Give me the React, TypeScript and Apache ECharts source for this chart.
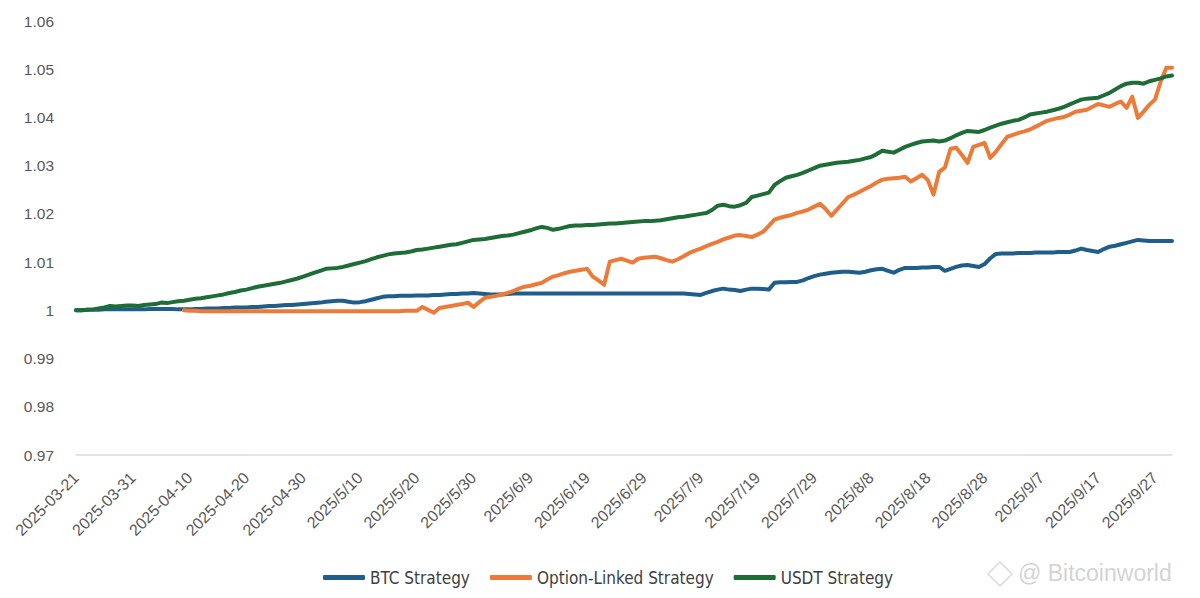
import React, { useEffect, useRef } from "react";
import * as echarts from "echarts";

// Daily categories from 2025-03-21 to 2025-09-30
const startDate = new Date(Date.UTC(2025, 2, 21));
const dayCount = 194;
const categories: string[] = [];
for (let i = 0; i < dayCount; i++) {
  const d = new Date(startDate.getTime() + i * 86400000);
  const m = d.getUTCMonth() + 1;
  const day = d.getUTCDate();
  categories.push(
    m <= 4
      ? `2025-${String(m).padStart(2, "0")}-${String(day).padStart(2, "0")}`
      : `2025/${m}/${day}`
  );
}

const seriesNames = ["BTC Strategy", "Option-Linked Strategy", "USDT Strategy"];

const btcStrategy = [
  1.0000, 1.0000, 1.0001, 1.0001, 1.0001, 1.0002, 1.0002, 1.0002, 1.0002, 1.0002,
  1.0002, 1.0002, 1.0002, 1.0003, 1.0003, 1.0003, 1.0003, 1.0003, 1.0002, 1.0002,
  1.0002, 1.0003, 1.0003, 1.0004, 1.0004, 1.0004, 1.0005, 1.0005, 1.0006, 1.0006,
  1.0006, 1.0007, 1.0007, 1.0008, 1.0009, 1.0009, 1.0010, 1.0011, 1.0011, 1.0012,
  1.0013, 1.0014, 1.0015, 1.0016, 1.0018, 1.0019, 1.0020, 1.0020, 1.0018, 1.0016,
  1.0017, 1.0019, 1.0022, 1.0025, 1.0028, 1.0029, 1.0029, 1.0030, 1.0030, 1.0030,
  1.0031, 1.0031, 1.0031, 1.0032, 1.0032, 1.0033, 1.0034, 1.0034, 1.0035, 1.0035,
  1.0036, 1.0035, 1.0034, 1.0033, 1.0033, 1.0033, 1.0034, 1.0035, 1.0035, 1.0035,
  1.0035, 1.0035, 1.0035, 1.0035, 1.0035, 1.0035, 1.0035, 1.0035, 1.0035, 1.0035,
  1.0035, 1.0035, 1.0035, 1.0035, 1.0035, 1.0035, 1.0035, 1.0035, 1.0035, 1.0035,
  1.0035, 1.0035, 1.0035, 1.0035, 1.0035, 1.0035, 1.0035, 1.0035, 1.0034, 1.0033,
  1.0032, 1.0036, 1.0040, 1.0043, 1.0045, 1.0043, 1.0042, 1.0040, 1.0043, 1.0045,
  1.0045, 1.0044, 1.0043, 1.0057, 1.0058, 1.0058, 1.0059, 1.0059, 1.0062, 1.0067,
  1.0071, 1.0074, 1.0076, 1.0078, 1.0079, 1.0080, 1.0080, 1.0079, 1.0078, 1.0080,
  1.0083, 1.0085, 1.0086, 1.0082, 1.0078, 1.0084, 1.0088, 1.0088, 1.0088, 1.0089,
  1.0089, 1.0090, 1.0090, 1.0082, 1.0086, 1.0090, 1.0093, 1.0094, 1.0092, 1.0090,
  1.0096, 1.0108, 1.0117, 1.0118, 1.0118, 1.0118, 1.0119, 1.0119, 1.0119, 1.0120,
  1.0120, 1.0120, 1.0120, 1.0121, 1.0121, 1.0121, 1.0124, 1.0128, 1.0125, 1.0123,
  1.0121, 1.0127, 1.0132, 1.0134, 1.0137, 1.0140, 1.0143, 1.0146, 1.0145, 1.0144,
  1.0144, 1.0144, 1.0144, 1.0144,
];

const optionLinkedStrategy = [
  null, null, null, null, null, null, null, null, null, null,
  null, null, null, null, null, null, null, null, null, 1.0000,
  0.9999, 0.9999, 0.9998, 0.9998, 0.9998, 0.9998, 0.9998, 0.9998, 0.9998, 0.9998,
  0.9998, 0.9998, 0.9998, 0.9998, 0.9998, 0.9998, 0.9998, 0.9998, 0.9998, 0.9998,
  0.9998, 0.9998, 0.9998, 0.9998, 0.9998, 0.9998, 0.9998, 0.9998, 0.9998, 0.9998,
  0.9998, 0.9998, 0.9998, 0.9998, 0.9998, 0.9998, 0.9998, 0.9998, 0.9999, 0.9999,
  0.9999, 1.0007, 1.0001, 0.9995, 1.0005, 1.0007, 1.0009, 1.0011, 1.0013, 1.0016,
  1.0007, 1.0017, 1.0026, 1.0028, 1.0030, 1.0033, 1.0036, 1.0040, 1.0045, 1.0049,
  1.0051, 1.0054, 1.0057, 1.0064, 1.0070, 1.0073, 1.0077, 1.0080, 1.0082, 1.0084,
  1.0086, 1.0070, 1.0062, 1.0053, 1.0101, 1.0104, 1.0107, 1.0103, 1.0099, 1.0107,
  1.0109, 1.0110, 1.0111, 1.0108, 1.0104, 1.0101, 1.0106, 1.0112, 1.0119, 1.0124,
  1.0128, 1.0133, 1.0138, 1.0142, 1.0147, 1.0151, 1.0155, 1.0156, 1.0154, 1.0152,
  1.0157, 1.0163, 1.0175, 1.0188, 1.0192, 1.0195, 1.0198, 1.0202, 1.0205, 1.0209,
  1.0215, 1.0221, 1.0210, 1.0196, 1.0209, 1.0222, 1.0235, 1.0240, 1.0246, 1.0252,
  1.0258, 1.0265, 1.0271, 1.0273, 1.0274, 1.0275, 1.0277, 1.0267, 1.0274, 1.0281,
  1.0270, 1.0240, 1.0287, 1.0296, 1.0335, 1.0337, 1.0322, 1.0306, 1.0339, 1.0343,
  1.0347, 1.0316, 1.0329, 1.0345, 1.0360, 1.0364, 1.0368, 1.0371, 1.0375, 1.0381,
  1.0387, 1.0393, 1.0396, 1.0399, 1.0401, 1.0406, 1.0412, 1.0414, 1.0416, 1.0422,
  1.0428, 1.0425, 1.0422, 1.0428, 1.0433, 1.0420, 1.0443, 1.0399, 1.0412, 1.0426,
  1.0437, 1.0474, 1.0503, 1.0503,
];

const usdtStrategy = [
  1.0000, 1.0000, 1.0001, 1.0002, 1.0004, 1.0006, 1.0009, 1.0008, 1.0009, 1.0010,
  1.0010, 1.0009, 1.0011, 1.0012, 1.0013, 1.0016, 1.0015, 1.0017, 1.0019, 1.0020,
  1.0022, 1.0024, 1.0025, 1.0027, 1.0029, 1.0031, 1.0033, 1.0036, 1.0038, 1.0041,
  1.0043, 1.0046, 1.0049, 1.0051, 1.0053, 1.0055, 1.0057, 1.0060, 1.0063, 1.0066,
  1.0070, 1.0074, 1.0078, 1.0082, 1.0086, 1.0087, 1.0088, 1.0090, 1.0093, 1.0096,
  1.0099, 1.0102, 1.0106, 1.0110, 1.0113, 1.0116, 1.0118, 1.0119, 1.0120, 1.0122,
  1.0125, 1.0126, 1.0128, 1.0130, 1.0132, 1.0134, 1.0136, 1.0137, 1.0140, 1.0143,
  1.0146, 1.0147, 1.0148, 1.0150, 1.0152, 1.0154, 1.0155, 1.0157, 1.0160, 1.0163,
  1.0166, 1.0170, 1.0173, 1.0171, 1.0167, 1.0169, 1.0172, 1.0175, 1.0176, 1.0176,
  1.0177, 1.0177, 1.0178, 1.0179, 1.0180, 1.0180, 1.0181, 1.0182, 1.0183, 1.0184,
  1.0185, 1.0185, 1.0186, 1.0187, 1.0189, 1.0191, 1.0193, 1.0194, 1.0196, 1.0198,
  1.0200, 1.0202, 1.0208, 1.0217, 1.0219, 1.0216, 1.0215, 1.0218, 1.0223, 1.0235,
  1.0238, 1.0241, 1.0244, 1.0260, 1.0268, 1.0275, 1.0278, 1.0281, 1.0285, 1.0290,
  1.0295, 1.0300, 1.0302, 1.0304, 1.0306, 1.0307, 1.0308, 1.0310, 1.0312, 1.0315,
  1.0318, 1.0324, 1.0331, 1.0329, 1.0327, 1.0333, 1.0339, 1.0343, 1.0347, 1.0350,
  1.0351, 1.0352, 1.0350, 1.0352, 1.0357, 1.0363, 1.0368, 1.0372, 1.0371, 1.0370,
  1.0374, 1.0379, 1.0383, 1.0387, 1.0390, 1.0393, 1.0395, 1.0400, 1.0406, 1.0408,
  1.0410, 1.0412, 1.0415, 1.0418, 1.0422, 1.0427, 1.0432, 1.0437, 1.0439, 1.0440,
  1.0441, 1.0446, 1.0451, 1.0458, 1.0465, 1.0470, 1.0472, 1.0472, 1.0470, 1.0475,
  1.0478, 1.0481, 1.0485, 1.0487,
];

const seriesColors = ["#1F5D8A", "#EC7B3A", "#1E6C36"];
const seriesData = [btcStrategy, optionLinkedStrategy, usdtStrategy];

const labelFont = "'Liberation Sans', Arial, sans-serif";
const legendFont = "'Liberation Sans Narrow', 'DejaVu Sans Condensed', 'Liberation Sans', sans-serif";

export default function App() {
  const ref = useRef<HTMLDivElement>(null);

  useEffect(() => {
    document.body.style.margin = "0";
    if (!ref.current) return;
    const chart = echarts.init(ref.current, null, { renderer: "svg" });
    chart.setOption({
      animation: false,
      backgroundColor: "#ffffff",
      grid: { left: 76, right: 28, top: 21, bottom: 143, containLabel: false },
      xAxis: {
        type: "category",
        data: categories,
        boundaryGap: false,
        axisLine: { show: true, lineStyle: { color: "#DCDCDC", width: 1.5 } },
        axisTick: { show: false },
        splitLine: { show: false },
        axisLabel: {
          interval: 9,
          rotate: 45,
          margin: 20,
          color: "#595959",
          fontSize: 16,
          fontFamily: labelFont,
        },
      },
      yAxis: {
        type: "value",
        min: 0.97,
        max: 1.06,
        interval: 0.01,
        axisLine: { show: false },
        axisTick: { show: false },
        splitLine: { show: false },
        axisLabel: {
          margin: 22,
          color: "#595959",
          fontSize: 15.5,
          fontFamily: labelFont,
          formatter: (v: number) => String(parseFloat(v.toFixed(2))),
        },
      },
      legend: {
        left: 318,
        top: 564,
        itemWidth: 42,
        itemHeight: 5,
        itemGap: 20,
        icon: "roundRect",
        textStyle: { color: "#404040", fontSize: 17, fontFamily: legendFont },
        data: seriesNames,
      },
      graphic: [
        {
          type: "text",
          left: 1018,
          top: 561,
          style: {
            text: "@ Bitcoinworld",
            fill: "#D4D4D4",
            font: "23px 'Liberation Sans', Arial, sans-serif",
          },
        },
        {
          type: "polygon",
          shape: { points: [[1000, 562], [1012, 574], [1000, 586], [988, 574]] },
          style: { fill: "none", stroke: "#DADADA", lineWidth: 1.5 },
        },
      ],
      series: seriesNames.map((name, k) => ({
        name,
        type: "line",
        data: seriesData[k],
        showSymbol: false,
        symbol: "none",
        connectNulls: false,
        color: seriesColors[k],
        lineStyle: { color: seriesColors[k], width: 4, cap: "round", join: "round" },
        z: 2 + k,
      })),
    });
    return () => chart.dispose();
  }, []);

  return <div ref={ref} style={{ width: 1200, height: 598 }} />;
}
